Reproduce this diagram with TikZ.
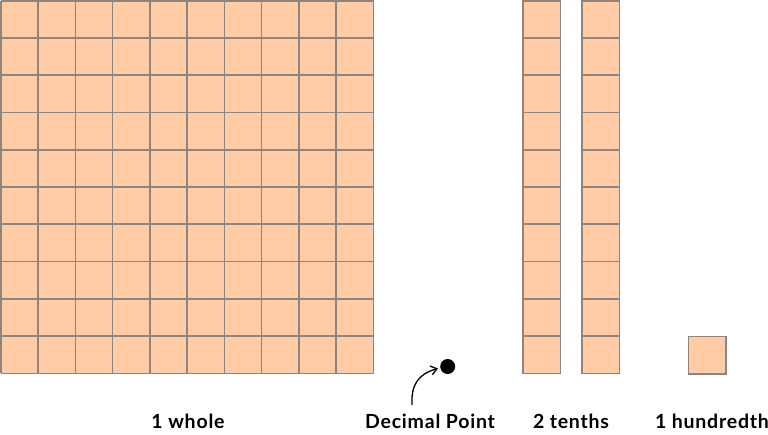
\documentclass[tikz,border=0pt]{standalone}
\usepackage{fontspec}
\setmainfont{Lato}[LetterSpace=4]
\usetikzlibrary{arrows.meta}
\definecolor{peach}{HTML}{FFCCA6}
\definecolor{gridgray}{HTML}{8E8580}
\tikzset{
  cellbox/.style={fill=peach, draw=gridgray, line width=1.6pt},
  lbl/.style={font=\bfseries\fontsize{19.5}{22}\selectfont, anchor=base, inner sep=0pt},
}
\begin{document}
\begin{tikzpicture}[x=1pt,y=-1pt]
\useasboundingbox (0,0) rectangle (768,435);
% whole
\fill[peach] (0.8,0.8) rectangle (373.5,373.3);
\foreach \i in {0,...,10} {
  \draw[gridgray, line width=1.6pt] ({0.8+\i*37.27},0.8) -- ({0.8+\i*37.27},373.3);
  \draw[gridgray, line width=1.6pt] (0.8,{0.8+\i*37.25}) -- (373.5,{0.8+\i*37.25});
}
% tenths
\foreach \x in {522.7,581.7} {
  \foreach \j in {0,...,9} {
    \draw[cellbox] (\x,{0.8+\j*37.25}) rectangle ({\x+37.7},{0.8+(\j+1)*37.25});
  }
}
% hundredth
\node[cellbox, minimum width=37.7pt, minimum height=37.7pt, inner sep=0pt, anchor=north west] (hund) at (687.5,335.6) {};
% decimal point
\fill[black] (447.7,366.5) circle (7.5);
\coordinate (dot) at (438,368.5);
\coordinate (tail) at (412,405);
\draw[line width=1.3pt, -{Straight Barb[length=6pt,width=9pt]}] (tail) .. controls (411,385) and (418,374) .. (dot);
% labels
\node[lbl] (l1) at (188,428) {1 whole};
\node[lbl] (l2) at (430,428) {Decimal Point};
\node[lbl] (l3) at (571,428) {2 tenths};
\node[lbl] (l4) at (712,428) {1 hundredth};
\end{tikzpicture}
\end{document}
